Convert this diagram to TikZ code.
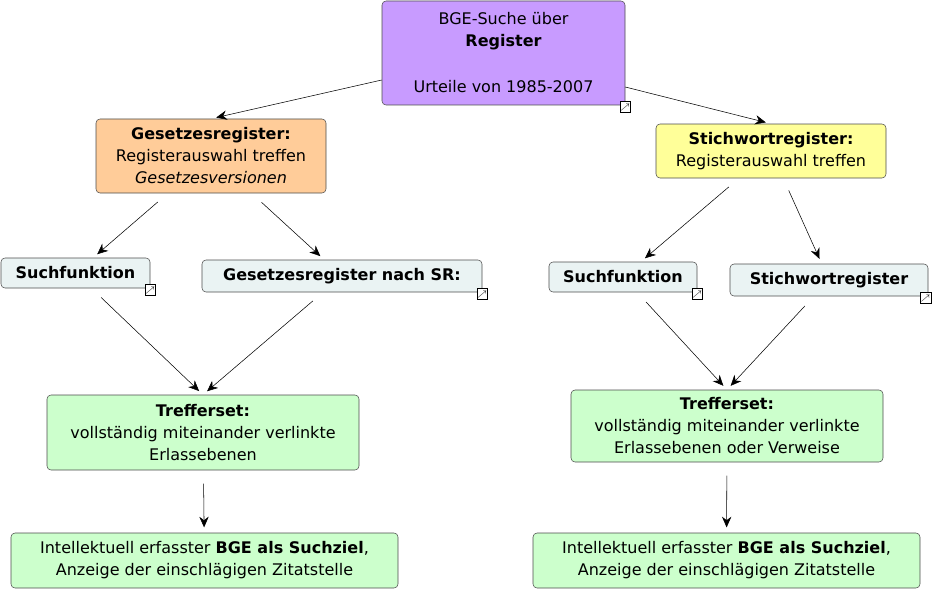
\documentclass[tikz,border=0pt]{standalone}
\usepackage{fontspec}
\setmainfont{DejaVu Sans}
\usetikzlibrary{arrows.meta,positioning}

\definecolor{lila}{HTML}{C89BFF}
\definecolor{orange}{HTML}{FFCC99}
\definecolor{gelb}{HTML}{FFFF99}
\definecolor{hellblau}{HTML}{EAF3F3}
\definecolor{gruen}{HTML}{CCFFCC}

\begin{document}
\begin{tikzpicture}[
    x = 0.75pt, y = -0.75pt,
    > = {Stealth[length=8pt,width=7pt]}, % arrow head style
    shorten > = 4pt, shorten < = 10pt,
    font = \fontsize{12}{16.5}\selectfont,
    box/.style = {draw = black!70, rounded corners = 3pt, align = center, inner sep = 0pt},
    link/.style = {draw = black, fill = white, minimum size = 8pt, inner sep = 0pt,
        font = \fontsize{6}{6}\selectfont, text depth = 0pt}
    ]

    \useasboundingbox (0,0) rectangle (932,592);

    % nodes given by their box corners
    \node[box, fill = lila, minimum width = 243*0.75pt, minimum height = 104*0.75pt] (top) at (503.5,53)
        {BGE-Suche über\\\textbf{Register}\\[18pt]Urteile von 1985-2007};
    \node[box, fill = orange, minimum width = 230*0.75pt, minimum height = 74*0.75pt] (gesetz) at (211,156)
        {\textbf{Gesetzesregister:}\\Registerauswahl treffen\\\textit{Gesetzesversionen}};
    \node[box, fill = gelb, minimum width = 230*0.75pt, minimum height = 54*0.75pt] (stich) at (771,151)
        {\textbf{Stichwortregister:}\\Registerauswahl treffen};

    \node[box, fill = hellblau, minimum width = 149*0.75pt, minimum height = 30*0.75pt] (suchL) at (75.5,273)
        {\textbf{Suchfunktion}};
    \node[box, fill = hellblau, minimum width = 280*0.75pt, minimum height = 32*0.75pt] (gesSR) at (342,276)
        {\textbf{Gesetzesregister nach SR:}};
    \node[box, fill = hellblau, minimum width = 148*0.75pt, minimum height = 30*0.75pt] (suchR) at (623,277)
        {\textbf{Suchfunktion}};
    \node[box, fill = hellblau, minimum width = 198*0.75pt, minimum height = 32*0.75pt] (stichR) at (829,280)
        {\textbf{Stichwortregister}};

    \node[box, fill = gruen, minimum width = 312*0.75pt, minimum height = 75*0.75pt] (trefferL) at (203,432.5)
        {\textbf{Trefferset:}\\vollständig miteinander verlinkte\\Erlassebenen};
    \node[box, fill = gruen, minimum width = 312*0.75pt, minimum height = 72*0.75pt] (trefferR) at (727,426)
        {\textbf{Trefferset:}\\vollständig miteinander verlinkte\\Erlassebenen oder Verweise};

    \node[box, fill = gruen, minimum width = 387*0.75pt, minimum height = 55*0.75pt] (zielL) at (204.5,560.5)
        {Intellektuell erfasster \textbf{BGE als Suchziel},\\Anzeige der einschlägigen Zitatstelle};
    \node[box, fill = gruen, minimum width = 387*0.75pt, minimum height = 55*0.75pt] (zielR) at (726.5,560.5)
        {Intellektuell erfasster \textbf{BGE als Suchziel},\\Anzeige der einschlägigen Zitatstelle};

    % link icons
    \foreach \n in {top, suchL, gesSR, suchR}
        \node[link] (\n-link) at ([yshift=-1pt]\n.south east) {$\nearrow$};
    \node[link] (stichR-link) at ([xshift=-2pt,yshift=-1pt]stichR.south east) {$\nearrow$};

    % connectors
    \draw[->, shorten < = 0pt] (top.west |- 0,80) -- (gesetz.north);
    \draw[->, shorten < = 0pt] (top.east |- 0,87) -- (stich.north);
    \draw[->] (gesetz) -- (suchL);
    \draw[->] (gesetz) -- (gesSR);
    \draw[->] (stich) -- (suchR);
    \draw[->] (stich) -- (stichR);
    \draw[->] (suchL) -- (trefferL.north);
    \draw[->] (gesSR) -- (trefferL.north);
    \draw[->] (suchR) -- (trefferR.north);
    \draw[->] (stichR) -- (trefferR.north);
    \draw[->] (trefferL) -- (zielL);
    \draw[->] (trefferR) -- (zielR);

\end{tikzpicture}
\end{document}
